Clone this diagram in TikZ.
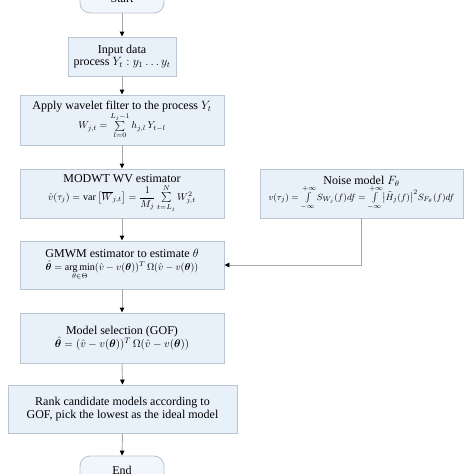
\documentclass[tikz,border=0pt]{standalone}
\usepackage{amsmath,amssymb,bm}
\usepackage{fontspec}
\setmainfont{Liberation Serif}
\usetikzlibrary{arrows.meta}
\definecolor{boxfill}{HTML}{E8F1FA}
\definecolor{boxdraw}{HTML}{B9C6D2}
\definecolor{linegray}{HTML}{A8A8A8}
\definecolor{termfill}{HTML}{F0F6FC}
\newcommand{\fmlsize}{\fontsize{10}{11}\selectfont}
\begin{document}
\begin{tikzpicture}[x=1pt,y=-1pt,
  procbox/.style={draw=boxdraw,fill=boxfill,line width=0.9pt,align=center,inner sep=0pt,
    font=\fontsize{12}{13.5}\selectfont},
  termbox/.style={draw=boxdraw,fill=termfill,line width=0.9pt,rounded corners=10pt,
    minimum width=84pt,minimum height=28pt,inner sep=0pt,font=\fontsize{12}{13.5}\selectfont},
  flow/.style={draw=linegray,line width=0.9pt,-{Triangle[length=5pt,width=4.5pt,fill=black,color=black]}}]
\useasboundingbox (0,0) rectangle (474,474);
\fill[white] (0,0) rectangle (474,474);
\node[termbox] (start) at (122,-1) {Start};
\node[procbox,minimum width=108pt,minimum height=39pt] (input) at (122,56.5)
  {Input data\\[-1pt] process $Y_t : y_1\ldots y_t$};
\node[procbox,minimum width=204pt,minimum height=50pt] (wave) at (122,120)
  {Apply wavelet filter to the process $Y_t$\\[-1pt]
   {\fmlsize $W_{j,t}=\sum\limits_{l=0}^{L_j-1} h_{j,l}\,Y_{t-l}$}};
\node[procbox,minimum width=204pt,minimum height=49pt] (modwt) at (122,193.5)
  {MODWT WV estimator\\[1pt]
   {\fmlsize $\hat{v}(\tau_j)=\mathrm{var}\left[\overline{W}_{j,t}\right]=\dfrac{1}{M_j}\sum\limits_{t=L_j}^{N}W_{j,t}^2$}};
\node[procbox,minimum width=203pt,minimum height=49pt] (noise) at (361.5,193.5)
  {Noise model $F_\theta$\\[-2pt]
   {\fontsize{9.4}{10}\selectfont $v(\tau_j)=\int\limits_{-\infty}^{+\infty}S_{W_j}(f)df=\int\limits_{-\infty}^{+\infty}\bigl|\tilde{H}_j(f)\bigr|^2 S_{F_\theta}(f)df$}};
\node[procbox,minimum width=204pt,minimum height=48pt] (gmwm) at (122,265)
  {GMWM estimator to estimate $\theta$\\[-1pt]
   {\fmlsize $\hat{\bm\theta}=\mathop{\arg\min}\limits_{\theta\in\Theta}(\hat{v}-v(\bm\theta))^T\,\Omega(\hat{v}-v(\bm\theta))$}};
\node[procbox,minimum width=204pt,minimum height=50pt] (gof) at (122,338)
  {Model selection (GOF)\\[0pt]
   {\fontsize{11}{12}\selectfont $\hat{\bm\theta}=(\hat{v}-v(\bm\theta))^T\,\Omega(\hat{v}-v(\bm\theta))$}};
\node[procbox,minimum width=229pt,minimum height=48pt] (rank) at (122.5,409)
  {Rank candidate models according to\\ GOF, pick the lowest as the ideal model};
\node[termbox] (end) at (122,470) {End};
\draw[flow] (start.south) -- (input.north);
\draw[flow] (input.south) -- (wave.north);
\draw[flow] (wave.south) -- (modwt.north);
\draw[flow] (modwt.south) -- (gmwm.north);
\draw[flow] (gmwm.south) -- (gof.north);
\draw[flow] (gof.south) -- (rank.north);
\draw[flow] (rank.south) -- (end.north);
\draw[flow] (noise.south) |- (gmwm.east);
\end{tikzpicture}
\end{document}
